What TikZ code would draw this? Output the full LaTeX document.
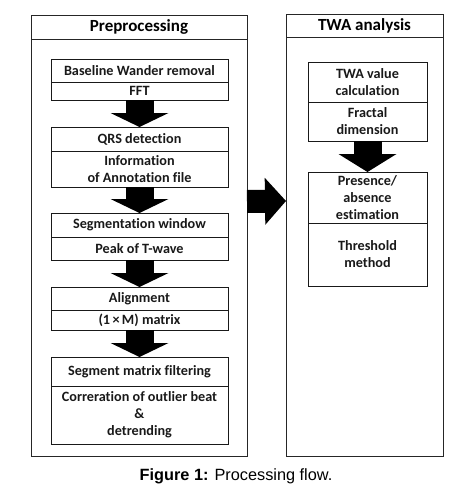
\documentclass[tikz,border=0pt]{standalone}
\usepackage{fontspec}
\setmainfont{Carlito}[Ligatures=NoCommon]
\newfontfamily\capfont{Liberation Sans}
\usetikzlibrary{positioning,arrows.meta}

\begin{document}
\begin{tikzpicture}[
        x=1pt, y=-1pt,
        panel/.style={
                draw=black!85,
                line width=1pt,
                inner sep=0pt,
                outer sep=0pt
            },
        header/.style={panel, font=\fontsize{17}{20}\selectfont\bfseries},
        stage/.style={
                draw=black!90,
                line width=1pt,
                font=\fontsize{14.2}{17}\selectfont\bfseries,
                text=black!90,
                align=center,
                inner sep=0pt,
                outer sep=0pt
            },
        leftstage/.style={stage, minimum width=177pt},
        rightstage/.style={stage, minimum width=119pt},
        flow/.style={line width=28pt, -{Triangle[width=58pt,length=14pt,line width=0pt]}}
    ]
    \useasboundingbox (0,0) rectangle (474,493);

    % the two panels
    \node[panel, minimum width=216pt, minimum height=441pt] (prep) at (139,235.5) {};
    \node[header, minimum width=216pt, minimum height=24pt, anchor=north] (prephead) at (prep.north) {Preprocessing};
    \node[panel, minimum width=157pt, minimum height=442pt] (twa) at (364.5,235) {};
    \node[header, minimum width=157pt, minimum height=23pt, anchor=north] (twahead) at (twa.north) {TWA analysis};

    % preprocessing steps
    \node[leftstage, minimum height=23pt, anchor=north] (baseline) at (139.5,59) {Baseline Wander removal};
    \node[leftstage, minimum height=18pt] (fft) [below=0pt of baseline] {FFT};
    \node[leftstage, minimum height=24pt] (qrs) [below=27pt of fft] {QRS detection};
    \node[leftstage, minimum height=36pt] (annot) [below=0pt of qrs] {Information\\of Annotation file};
    \node[leftstage, minimum height=24pt] (segwin) [below=26pt of annot] {Segmentation window};
    \node[leftstage, minimum height=23pt] (tpeak) [below=0pt of segwin] {Peak of T-wave};
    \node[leftstage, minimum height=23pt] (align) [below=27pt of tpeak] {Alignment};
    \node[leftstage, minimum height=20pt] (matrix) [below=0pt of align] {(1\,×\,M) matrix};
    \node[leftstage, minimum height=29pt] (segfilt) [below=27pt of matrix] {Segment matrix filtering};
    \node[leftstage, minimum height=58pt] (outlier) [below=0pt of segfilt] {Correration of outlier beat\\\&\\detrending};

    % TWA analysis steps
    \node[rightstage, minimum height=40pt, anchor=north] (twaval) at (367.5,62) {TWA value\\calculation};
    \node[rightstage, minimum height=39pt] (fractal) [below=0pt of twaval] {Fractal\\dimension};
    \node[rightstage, minimum height=51pt] (presence) [below=31pt of fractal] {Presence/\\absence\\estimation};
    \node[rightstage, minimum height=63pt] (thresh) [below=0pt of presence] {Threshold\\method};

    % block arrows
    \draw[flow] (fft) -- (qrs);
    \draw[flow] (annot) -- (segwin);
    \draw[flow] (tpeak) -- (align);
    \draw[flow] (matrix) -- (segfilt);
    \draw[flow, -{Triangle[width=58pt,length=18pt,line width=0pt]}] (fractal) -- (presence);
    \draw[flow, line width=23pt, -{Triangle[width=47pt,length=21pt,line width=0pt]}] ([yshift=34pt]prep.east) -- ([yshift=34pt]twa.west);

    \node[font=\capfont\fontsize{16.3}{19}\selectfont] (caption) at (236,476) {\textbf{Figure 1:} Processing flow.};
\end{tikzpicture}
\end{document}
